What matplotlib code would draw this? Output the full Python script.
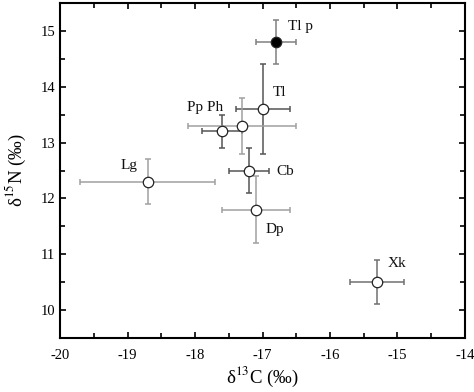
import numpy as np
import matplotlib
matplotlib.use("Agg")
import matplotlib.pyplot as plt
from matplotlib.ticker import MultipleLocator, FormatStrFormatter

plt.rcParams['font.family'] = ['Liberation Serif', 'DejaVu Serif']
plt.rcParams['mathtext.fontset'] = 'stix'
plt.rcParams['axes.unicode_minus'] = False

# Datos
especies = ['Tl p', 'Tl', 'Pp', 'Ph', 'Cb', 'Dp', 'Lg', 'Xk']
d13c = [-16.8, -17.0, -17.6, -17.3, -17.2, -17.1, -18.7, -15.3]
d15n = [14.8, 13.6, 13.2, 13.3, 12.5, 11.8, 12.3, 10.5]
err_c = [0.3, 0.4, 0.3, 0.8, 0.3, 0.5, 1.0, 0.4]
err_n = [0.4, 0.8, 0.3, 0.5, 0.4, 0.6, 0.4, 0.4]
color_err = ['#808080', '#555555', '#555555', '#a0a0a0', '#555555', '#a0a0a0', '#a0a0a0', '#707070']
relleno = ['black', 'white', 'white', 'white', 'white', 'white', 'white', 'white']

etiquetas = ['Tl p', 'Tl', 'Pp Ph', 'Lg', 'Cb', 'Dp', 'Xk']
etiq_x = [-16.62, -16.85, -18.12, -19.1, -16.8, -16.95, -15.14]
etiq_y = [15.08, 13.9, 13.62, 12.59, 12.48, 11.45, 10.84]

fig = plt.figure(figsize=(4.74, 3.92), dpi=100)
ax = fig.add_axes([0.1266, 0.1378, 0.8544, 0.8545])

# Barras de error y puntos
for i in range(len(especies)):
    ax.errorbar(d13c[i], d15n[i], xerr=err_c[i], yerr=err_n[i], fmt='none',
                ecolor=color_err[i], elinewidth=1.1, capsize=2.5, capthick=1.1, zorder=2)
for i in range(len(especies)):
    ax.plot(d13c[i], d15n[i], 'o', markersize=7.5, markerfacecolor=relleno[i],
            markeredgecolor='#222222', markeredgewidth=0.9, zorder=3)

for t, x, y in zip(etiquetas, etiq_x, etiq_y):
    ax.text(x, y, t, fontsize=11, ha='left', va='center', color='#111111')

ax.set_xlim(-20, -14)
ax.set_ylim(9.5, 15.5)
ax.xaxis.set_major_locator(MultipleLocator(1))
ax.xaxis.set_minor_locator(MultipleLocator(0.5))
ax.yaxis.set_major_locator(MultipleLocator(1))
ax.yaxis.set_minor_locator(MultipleLocator(0.5))
ax.xaxis.set_major_formatter(FormatStrFormatter('%d'))
ax.yaxis.set_major_formatter(FormatStrFormatter('%d'))
ax.tick_params(which='both', direction='in', top=True, right=True, width=1.2, labelsize=10.5)
ax.tick_params(which='major', length=4)
ax.tick_params(which='minor', length=3.5)
ax.tick_params(axis='x', pad=8)
for s in ax.spines.values():
    s.set_linewidth(1.5)

ax.set_xlabel(r'δ$^{13}$C (‰)', fontsize=13.5, labelpad=2)
ax.set_ylabel(r'δ$^{15}$N (‰)', fontsize=13.5, labelpad=9)

plt.savefig('out.png', dpi=100)
